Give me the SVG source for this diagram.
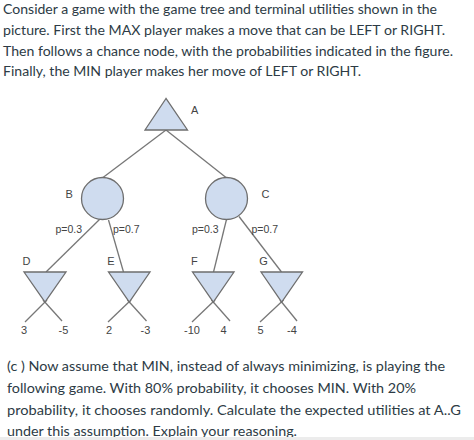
<svg xmlns="http://www.w3.org/2000/svg" width="474" height="440" viewBox="0 0 474 440">
<style>
.para{font-family:Lato,"Open Sans","Noto Sans",sans-serif;fill:#2d3b45;}
.p1{font-size:13.5px;}
.p2{font-size:14px;}
.node{fill:#cfdcef;stroke:#6e6e6e;stroke-width:1.3;}
.edge{stroke:#777;stroke-width:1.3;fill:none;}
.lbl{font-family:"Liberation Sans",Arial,sans-serif;font-size:11px;fill:#444;}
.pl{font-family:"Liberation Sans",Arial,sans-serif;font-size:10.5px;fill:#444;}
.leaf{font-family:"Liberation Sans",Arial,sans-serif;font-size:11px;fill:#444;text-anchor:middle;}
</style>
<rect width="474" height="440" fill="#ffffff"/>
<g id="question-top">
<text class="para p1" x="3" y="13.5" textLength="434" lengthAdjust="spacingAndGlyphs">Consider a game with the game tree and terminal utilities shown in the</text>
<text class="para p1" x="3" y="34.5" textLength="442" lengthAdjust="spacingAndGlyphs">picture. First the MAX player makes a move that can be LEFT or RIGHT.</text>
<text class="para p1" x="3" y="55.5" textLength="450" lengthAdjust="spacingAndGlyphs">Then follows a chance node, with the probabilities indicated in the figure.</text>
<text class="para p1" x="3" y="76" textLength="358" lengthAdjust="spacingAndGlyphs">Finally, the MIN player makes her move of LEFT or RIGHT.</text>
</g>
<g id="connectors">
<line class="edge" x1="166" y1="130" x2="103" y2="177.5"/>
<line class="edge" x1="166" y1="130" x2="226" y2="177.5"/>
<line class="edge" x1="100" y1="219" x2="46" y2="272"/>
<line class="edge" x1="108.5" y1="220" x2="123.5" y2="272"/>
<line class="edge" x1="226.5" y1="219.5" x2="213.5" y2="272"/>
<line class="edge" x1="239" y1="216.5" x2="281.5" y2="272"/>
<line class="edge" x1="25" y1="322" x2="47" y2="300"/>
<line class="edge" x1="43" y1="300" x2="62" y2="321"/>
<line class="edge" x1="108" y1="322" x2="131" y2="300"/>
<line class="edge" x1="127.5" y1="300" x2="146.5" y2="321"/>
<line class="edge" x1="192" y1="322" x2="215" y2="300"/>
<line class="edge" x1="211.5" y1="300" x2="230" y2="321"/>
<line class="edge" x1="260" y1="322" x2="283.5" y2="300"/>
<line class="edge" x1="280" y1="300" x2="297" y2="321"/>
</g>
<g id="node-A">
<polygon class="node" points="166,98.5 145,130 187.5,130"/>
<text class="lbl" x="191" y="114">A</text>
</g>
<g id="node-B">
<circle class="node" cx="102.5" cy="198.5" r="21"/>
<text class="lbl" x="65.5" y="197.5">B</text>
<text class="pl" x="55.5" y="233">p=0.3</text>
<text class="pl" x="113" y="233">p=0.7</text>
</g>
<g id="node-C">
<circle class="node" cx="226.5" cy="198.5" r="21"/>
<text class="lbl" x="261.5" y="197.5">C</text>
<text class="pl" x="192" y="233">p=0.3</text>
<text class="pl" x="251.5" y="233">p=0.7</text>
</g>
<g id="node-D">
<polygon class="node" points="24,272 66,272 45,302"/>
<text class="lbl" x="22.5" y="265">D</text>
<text class="leaf" x="24" y="334">3</text>
<text class="leaf" x="63.5" y="334">-5</text>
</g>
<g id="node-E">
<polygon class="node" points="108.5,272 150,272 129.3,302"/>
<text class="lbl" x="107.3" y="265">E</text>
<text class="leaf" x="109" y="334">2</text>
<text class="leaf" x="145.5" y="334">-3</text>
</g>
<g id="node-F">
<polygon class="node" points="192.5,272 234,272 213.3,302"/>
<text class="lbl" x="191" y="265">F</text>
<text class="leaf" x="192" y="334">-10</text>
<text class="leaf" x="223.5" y="334">4</text>
</g>
<g id="node-G">
<polygon class="node" points="261,272 302.5,272 281.7,302"/>
<text class="lbl" x="259.3" y="265">G</text>
<text class="leaf" x="260.5" y="334">5</text>
<text class="leaf" x="292" y="334">-4</text>
</g>
<g id="question-c">
<text class="para p2" x="7" y="371" textLength="438" lengthAdjust="spacingAndGlyphs">(c ) Now assume that MIN, instead of always minimizing, is playing the</text>
<text class="para p2" x="7" y="393" textLength="409" lengthAdjust="spacingAndGlyphs">following game. With 80% probability, it chooses MIN. With 20%</text>
<text class="para p2" x="7" y="415" textLength="454" lengthAdjust="spacingAndGlyphs">probability, it chooses randomly. Calculate the expected utilities at A..G</text>
<text class="para p2" x="7" y="436" textLength="290" lengthAdjust="spacingAndGlyphs">under this assumption. Explain your reasoning.</text>
</g>
<rect x="0" y="437" width="474" height="3" fill="#ececec"/>
</svg>
